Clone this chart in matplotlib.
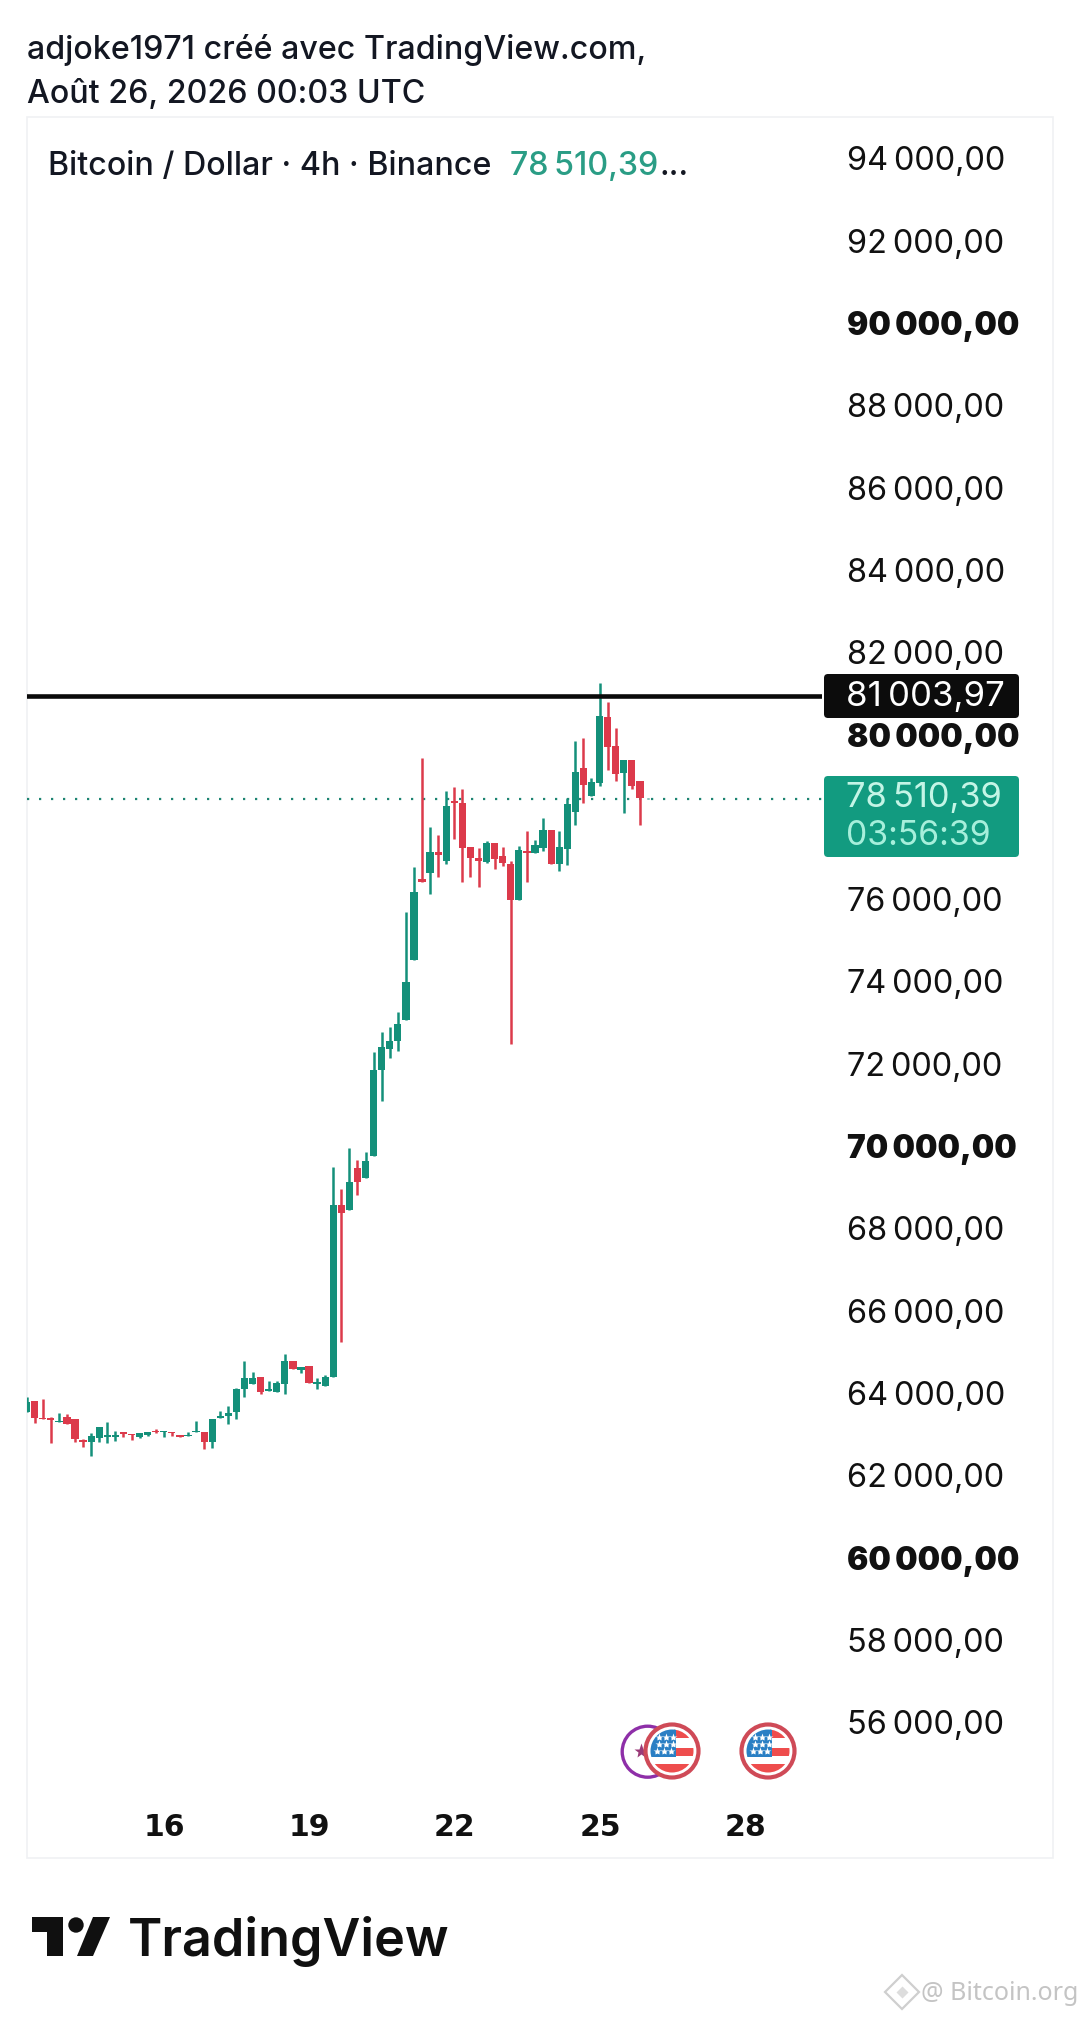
import matplotlib
matplotlib.use('Agg')
import matplotlib.pyplot as plt
from matplotlib.patches import Circle, FancyBboxPatch, Polygon, Rectangle
from matplotlib.transforms import ScaledTranslation

plt.rcParams['font.family'] = ['Inter', 'DejaVu Sans']

GREEN = '#14907a'
RED = '#dc3a4b'

# candles, left to right, one every 4h
opens = [63597, 63873, 63451, 63451, 63354, 63476, 63427, 62925, 62868, 62982,
         62998, 63006, 63127, 63071, 62990, 63038, 63152, 63111, 63127, 63055,
         63014, 63111, 63111, 62885, 63460, 63508, 63605, 64156, 64286, 64448,
         64124, 64099, 64294, 64837, 64626, 64723, 64286, 64237, 64464, 68635,
         68514, 69543, 69283, 69826, 71916, 72434, 72621, 73131, 74589, 76557,
         76695, 77213, 77003, 78461, 78412, 77327, 77068, 76970, 77424, 77116,
         76914, 76039, 77238, 77181, 77319, 77748, 76922, 77278, 78177, 79246,
         78582, 78898, 80486, 79781, 79133, 79441, 78939, 78500]
highs = [63962, 63873, 63921, 63492, 63573, 63557, 63427, 62941, 63103, 63233,
         63362, 63152, 63127, 63071, 63103, 63111, 63184, 63136, 63127, 63055,
         63127, 63387, 63111, 63427, 63622, 63751, 64197, 64837, 64569, 64448,
         64367, 64367, 65007, 64837, 64707, 64723, 64432, 64513, 69551, 69016,
         70013, 69729, 69923, 72362, 72831, 72953, 73333, 75747, 76857, 79506,
         77829, 77635, 78696, 78785, 78736, 77327, 77319, 77481, 77424, 77343,
         77003, 77367, 77716, 77505, 78031, 77748, 77732, 78534, 79911, 79992,
         79020, 81328, 80850, 80235, 79441, 79441, 78939, 78520]
lows = [63597, 63346, 63427, 62860, 63354, 63314, 62885, 62747, 62544, 62868,
        62844, 62909, 62990, 62925, 62974, 63022, 63087, 63006, 63022, 62990,
        63014, 63111, 62706, 62731, 63460, 63314, 63435, 63978, 64286, 64035,
        64124, 64083, 64035, 64658, 64545, 64302, 64164, 64237, 64464, 65298,
        68514, 68878, 69283, 69826, 71155, 72208, 72386, 73131, 74589, 76492,
        76193, 76598, 76914, 77521, 76492, 76598, 76355, 76938, 76800, 76881,
        72548, 76039, 76492, 77181, 77238, 76922, 76744, 76897, 77878, 78396,
        78582, 78825, 79206, 78939, 78153, 78736, 77878, 78490]
closes = [63857, 63451, 63427, 63411, 63387, 63314, 62941, 62868, 63030, 63233,
          63038, 63046, 63079, 63038, 63103, 63111, 63111, 63136, 63087, 63006,
          63046, 63152, 62868, 63427, 63508, 63573, 64156, 64432, 64432, 64099,
          64156, 64302, 64853, 64658, 64707, 64318, 64326, 64448, 68635, 68449,
          69203, 69186, 69705, 71916, 72467, 72621, 73026, 74063, 76250, 76492,
          77221, 77132, 78339, 78412, 77303, 77068, 76987, 77424, 77051, 76954,
          76039, 77262, 77197, 77375, 77748, 76922, 77327, 78372, 79165, 78841,
          78906, 80518, 79757, 79109, 79441, 78825, 78517, 78510]

price_ticks = [94000, 92000, 90000, 88000, 86000, 84000, 82000, 80000, 78000, 76000,
               74000, 72000, 70000, 68000, 66000, 64000, 62000, 60000, 58000, 56000]
price_labels = ['94\u2009000,00', '92\u2009000,00', '90\u2009000,00', '88\u2009000,00', '86\u2009000,00',
                '84\u2009000,00', '82\u2009000,00', '80\u2009000,00', '', '76\u2009000,00',
                '74\u2009000,00', '72\u2009000,00', '70\u2009000,00', '68\u2009000,00', '66\u2009000,00',
                '64\u2009000,00', '62\u2009000,00', '60\u2009000,00', '58\u2009000,00', '56\u2009000,00']
bold_ticks = [90000, 80000, 70000, 60000]
day_ticks = [17, 35, 53, 71, 89]
day_labels = ['16', '19', '22', '25', '28']
level = 81003.97
last_price = 78510.39

W, H = 1080, 2017
fig = plt.figure(figsize=(W / 100, H / 100), dpi=100, facecolor='white')

# overlay in image pixels for the panel frame, badges, logo
bg = fig.add_axes([0, 0, 1, 1], zorder=0)
bg.set_xlim(0, W)
bg.set_ylim(H, 0)
bg.axis('off')
bg.add_patch(Rectangle((27, 117), 1026, 1741, fc='white', ec='#f0f1f3', lw=1.2))

# chart axes, pixel box 27..822 x 118..1800
ax = fig.add_axes([27 / W, 1 - 1800 / H, (822 - 27) / W, (1800 - 118) / H], zorder=1)
ax.patch.set_alpha(0)
for s in ax.spines.values():
    s.set_visible(False)
ax.set_xlim(0, 795 / 8.07)
ax.set_ylim(54177, 95049)

for i in range(len(opens)):
    up = closes[i] >= opens[i]
    c = GREEN if up else RED
    x = i - 0.05
    ax.vlines(x, lows[i], highs[i], color=c, lw=1.8, zorder=2)
    ax.bar(x, abs(closes[i] - opens[i]), bottom=min(opens[i], closes[i]), width=0.9,
           color=c, linewidth=0, zorder=3)

ax.axhline(level, color='#0a0a0a', lw=3.3, zorder=4)
ax.axhline(last_price, color='#1d8471', lw=1.6, dashes=(1.0, 4.4), zorder=1)

ax.yaxis.tick_right()
ax.set_yticks(price_ticks)
ax.set_yticklabels(price_labels)
ax.tick_params(axis='y', length=0, pad=18, labelsize=23.4, labelcolor='#111111')
up_shift = ScaledTranslation(0, 2 / 72, fig.dpi_scale_trans)
for lab, v in zip(ax.get_yticklabels(), price_ticks):
    lab.set_transform(lab.get_transform() + up_shift)
    if v in bold_ticks:
        lab.set_fontweight('black')
        lab.set_fontsize(22.7)
ax.set_xticks(day_ticks)
ax.set_xticklabels(day_labels)
ax.tick_params(axis='x', length=0, pad=9, labelsize=21.5, labelcolor='#111111')
for lab in ax.get_xticklabels():
    lab.set_fontweight('bold')
    lab.set_family('DejaVu Sans')

# texts and badges on a top overlay
top = fig.add_axes([0, 0, 1, 1], zorder=2)
top.set_xlim(0, W)
top.set_ylim(H, 0)
top.axis('off')
top.patch.set_alpha(0)

top.text(27, 50, 'adjoke1971 créé avec TradingView.com,', fontsize=23.2, color='#131722', va='center', fontweight='medium')
top.text(27, 94, 'Août 26, 2026 00:03 UTC', fontsize=23.2, color='#131722', va='center', fontweight='medium')
top.text(48, 166, 'Bitcoin / Dollar · 4h · Binance', fontsize=23.2, color='#131722', va='center',
         fontweight='medium')
top.text(510, 166, '78\u2009510,39', fontsize=23.2, color='#2a9d85', va='center', fontweight='medium')
top.text(659, 166, '...', fontsize=23.2, color='#131722', va='center', fontweight='medium')

top.add_patch(FancyBboxPatch((826, 676), 191, 40, boxstyle='round,pad=2,rounding_size=4', fc='#0c0c0c', ec='none'))
top.text(846, 697, '81\u2009003,97', fontsize=25, color='white', va='center')
top.add_patch(FancyBboxPatch((826, 778), 191, 77, boxstyle='round,pad=2,rounding_size=4', fc='#129b80', ec='none'))
top.text(846, 798, '78\u2009510,39', fontsize=24.8, color='#c4f5e6', va='center')
top.text(846, 836, '03:56:39', fontsize=24.3, color='#a6efdb', va='center')


def flag(cx, cy):
    top.add_patch(Circle((cx, cy), 26.5, fc='white', ec='#cf4a57', lw=3, zorder=5))
    disc = Circle((cx, cy), 21.5, transform=top.transData)
    for (x0, y0, w, h, col) in [(-22, -22, 44, 44, 'white'), (2, -22, 22, 9, '#ee4d4d'),
                                (2, -3, 22, 8, '#ee4d4d'), (-22, 13, 44, 10, '#ee4d4d'),
                                (-22, -22, 26, 28, '#2a7fc4')]:
        r = Rectangle((cx + x0, cy + y0), w, h, fc=col, ec='none', zorder=6)
        top.add_patch(r)
        r.set_clip_path(disc)
    for dy in (-14, -7, 0):
        sx = [cx - 13, cx - 6, cx + 1] if dy else [cx - 15, cx - 8, cx - 1]
        top.plot(sx, [cy + dy] * 3, ls='none', marker='*', ms=6, color='white', mec='none', zorder=7)


top.add_patch(Circle((647.7, 1751.7), 25.5, fc='white', ec='#8e2fa8', lw=2.4, zorder=4))
top.plot([641], [1751], ls='none', marker='*', ms=11, color='#9a3a78', mec='none', zorder=4.5)
flag(672, 1751)
flag(768, 1751)

# TradingView logo
top.add_patch(Polygon([(32, 1917), (63, 1917), (63, 1956), (47, 1956), (47, 1932), (32, 1932)], fc='#101010', ec='none'))
top.add_patch(Circle((76, 1925), 7.7, fc='#101010', ec='none'))
top.add_patch(Polygon([(93, 1917), (110, 1917), (93, 1956), (77, 1956)], fc='#101010', ec='none'))
top.text(128, 1956, 'TradingView', fontsize=37.5, fontweight='semibold', color='#101010', va='baseline')

# watermark
top.plot([902], [1992], ls='none', marker='D', ms=17, mfc='none', mec='#cfcfcf', mew=1.6)
top.plot([902], [1992], ls='none', marker='D', ms=6, mfc='#dddddd', mec='none')
top.text(921, 1993, '@ Bitcoin.org', fontsize=18, color='#c4c4c4', va='center', family=['Noto Sans', 'DejaVu Sans'])

fig.savefig('out.png', dpi=100)
